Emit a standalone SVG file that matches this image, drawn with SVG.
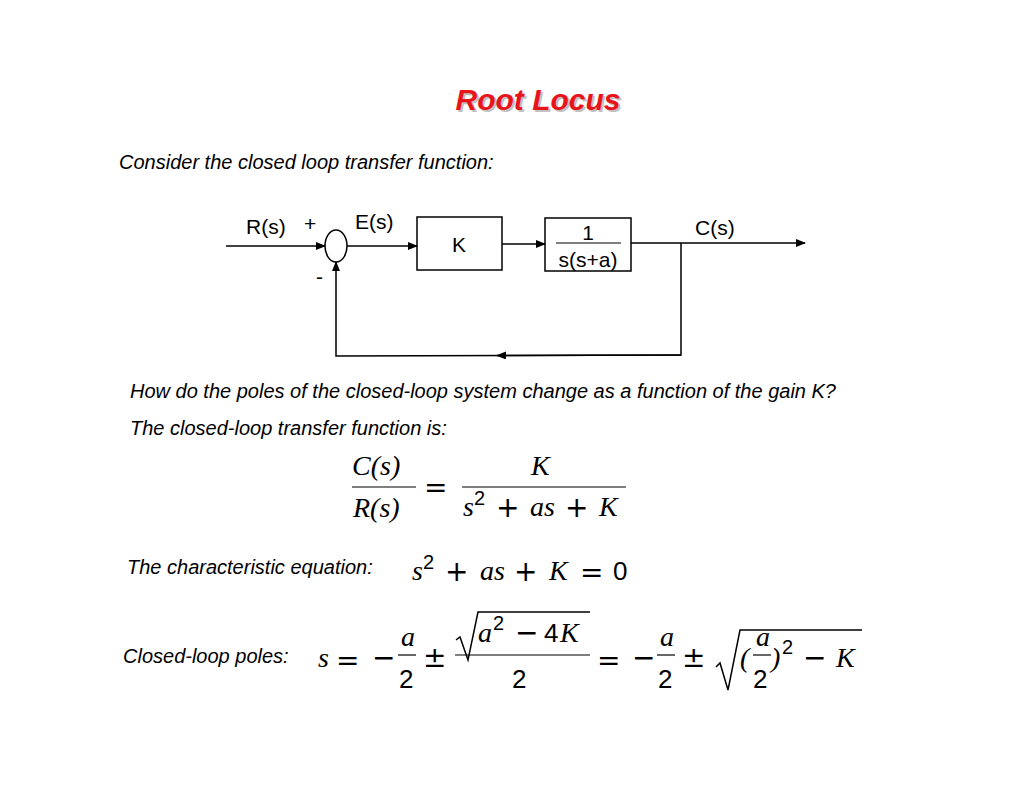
<svg xmlns="http://www.w3.org/2000/svg" width="1024" height="791" viewBox="0 0 1024 791">
<style>
.t{font-family:"Liberation Sans",Arial,sans-serif;font-size:21px;fill:#000}
.i{font-family:"Liberation Sans",Arial,sans-serif;font-style:italic;font-size:20px;fill:#000}
.m{font-family:"Liberation Serif","Times New Roman",serif;font-style:italic;font-size:28px;fill:#000}
.o{font-family:"DejaVu Sans",sans-serif;font-size:28px;fill:#000}
.n{font-family:"Liberation Sans",Arial,sans-serif;font-size:26px;fill:#000}
.s{font-family:"Liberation Sans",Arial,sans-serif;font-size:20px;fill:#000}
.l{stroke:#000;stroke-width:1.5;fill:none}
.f{stroke:#000;stroke-width:1.2}
</style>
<defs>
<marker id="a" markerWidth="10" markerHeight="8" refX="9" refY="4" orient="auto" markerUnits="userSpaceOnUse"><path d="M0,0 L10,4 L0,8 z" fill="#000"/></marker>
</defs>
<rect width="1024" height="791" fill="#fff"/>
<text x="540" y="112" text-anchor="middle" font-family="Liberation Sans,Arial,sans-serif" font-weight="bold" font-style="italic" font-size="30" fill="#999" opacity="0.6">Root Locus</text>
<text x="538" y="110" text-anchor="middle" font-family="Liberation Sans,Arial,sans-serif" font-weight="bold" font-style="italic" font-size="30" fill="#e8141b">Root Locus</text>
<text class="i" x="119" y="169">Consider the closed loop transfer function:</text>
<g id="sum"><ellipse cx="336" cy="246" rx="11" ry="16" class="l"/></g>
<g id="K"><rect x="417" y="217" width="85" height="53" class="l"/><text class="t" x="459" y="252" text-anchor="middle">K</text></g>
<g id="G"><rect x="545" y="218" width="86" height="53" class="l"/><text class="t" x="588" y="240" text-anchor="middle">1</text><line x1="556" y1="243" x2="621" y2="243" class="f"/><text class="t" x="588" y="267" text-anchor="middle">s(s+a)</text></g>
<g id="connectors">
<line x1="226" y1="246" x2="325" y2="246" class="l" marker-end="url(#a)"/>
<line x1="347" y1="246" x2="417" y2="246" class="l" marker-end="url(#a)"/>
<line x1="502" y1="244" x2="545" y2="244" class="l" marker-end="url(#a)"/>
<line x1="631" y1="243" x2="805" y2="243" class="l" marker-end="url(#a)"/>
<polyline points="681,243 681,355 336,356 336,262" class="l" marker-end="url(#a)"/>
<line x1="681" y1="355" x2="497" y2="355.5" class="l" marker-end="url(#a)"/>
</g>
<text class="t" x="246" y="234">R(s)</text>
<text class="t" x="304" y="231">+</text>
<text class="t" x="355" y="229">E(s)</text>
<text class="t" x="316" y="284">-</text>
<text class="t" x="695" y="235">C(s)</text>
<text class="i" x="130" y="398">How do the poles of the closed-loop system change as a function of the gain K?</text>
<text class="i" x="130" y="435">The closed-loop transfer function is:</text>
<text class="m" x="352" y="475">C(s)</text>
<line x1="352" y1="487" x2="416" y2="487" class="f"/>
<text class="m" x="353" y="517">R(s)</text>
<text class="o" x="424" y="497" font-size="34">=</text>
<text class="m" x="531" y="475">K</text>
<line x1="462" y1="487" x2="626" y2="487" class="f"/>
<text class="m" x="463" y="516">s</text><text class="s" x="474" y="505">2</text>
<text class="o" x="496" y="517">+</text><text class="m" x="530" y="516">as</text>
<text class="o" x="565" y="517">+</text><text class="m" x="599" y="516">K</text>
<text class="i" x="127" y="574">The characteristic equation:</text>
<text class="m" x="412" y="580">s</text><text class="s" x="423" y="569">2</text>
<text class="o" x="445" y="581">+</text><text class="m" x="480" y="580">as</text>
<text class="o" x="514" y="581">+</text><text class="m" x="549" y="580">K</text>
<text class="o" x="580" y="582" font-size="34">=</text><text class="n" x="613" y="580">0</text>
<text class="i" x="123" y="663">Closed-loop poles:</text>
<text class="m" x="318" y="667">s</text>
<text class="o" x="336" y="670" font-size="34">=</text>
<text class="o" x="372" y="667">−</text>
<text class="m" x="401" y="646" font-size="22">a</text>
<line x1="398" y1="655" x2="416" y2="655" class="f"/>
<text class="n" x="399" y="688">2</text>
<text class="o" x="423" y="667">±</text>
<path d="M456,640 L460,637 L468,660 L478,612 L590,612" class="l" stroke-width="1.2"/>
<text class="m" x="478" y="642">a</text><text class="s" x="493" y="630">2</text>
<text class="o" x="515" y="642">−</text><text class="n" x="544" y="642">4</text><text class="m" x="560" y="642">K</text>
<line x1="455" y1="655" x2="590" y2="655" class="f"/>
<text class="n" x="512" y="688">2</text>
<text class="o" x="597" y="670" font-size="34">=</text>
<text class="o" x="632" y="667">−</text>
<text class="m" x="660" y="646" font-size="22">a</text>
<line x1="657" y1="655" x2="675" y2="655" class="f"/>
<text class="n" x="658" y="688">2</text>
<text class="o" x="682" y="667">±</text>
<path d="M716,667 L720,663 L728,690 L740,630 L862,630" class="l" stroke-width="1.2"/>
<text class="m" x="740" y="667" font-style="normal">(</text>
<text class="m" x="756" y="646" font-size="22">a</text>
<line x1="753" y1="655" x2="771" y2="655" class="f"/>
<text class="n" x="753" y="688">2</text>
<text class="m" x="771" y="667" font-style="normal">)</text><text class="s" x="782" y="654">2</text>
<text class="o" x="803" y="667">−</text><text class="m" x="836" y="667">K</text>
</svg>
